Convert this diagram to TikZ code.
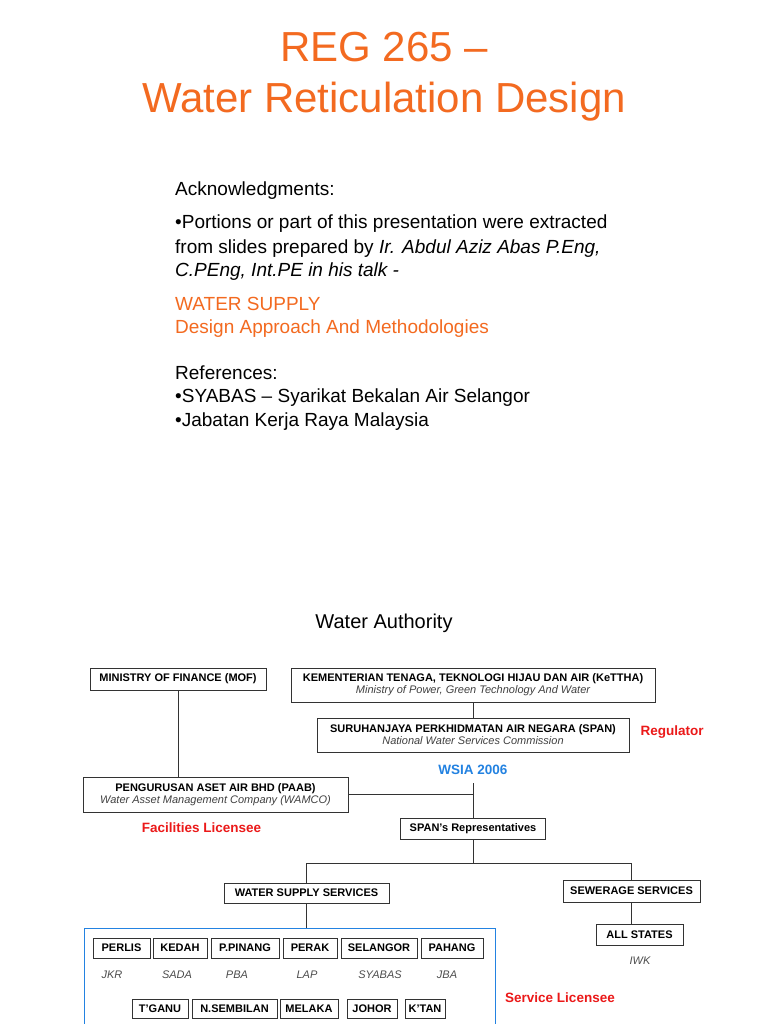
\documentclass[tikz,border=0pt]{standalone}
\usepackage{fontspec}
\setmainfont{Liberation Sans}
\usetikzlibrary{positioning}

\definecolor{slideorange}{RGB}{243,106,32}
\definecolor{licblue}{RGB}{35,130,225}
\definecolor{licred}{RGB}{235,25,25}

\tikzset{
  titletext/.style={anchor=base, text=slideorange, font=\fontsize{42}{48}\selectfont},
  bodytext/.style={anchor=base west, inner sep=0pt, font=\fontsize{19}{23}\selectfont},
  orgbox/.style={draw=black!80, line width=0.8pt, fill=white, inner sep=2pt, align=center,
    font=\fontsize{11}{13}\selectfont\bfseries},
  statebox/.style={orgbox, minimum height=20},
  agency/.style={text=black!70, font=\fontsize{11}{13}\selectfont\itshape},
  redtag/.style={text=licred, font=\fontsize{13.5}{15}\selectfont\bfseries},
  link/.style={draw=black!80, line width=0.8pt}
}

\begin{document}
\begin{tikzpicture}[x=1pt,y=-1pt]
    \useasboundingbox (0,0) rectangle (768,1024);
    \fill[white] (0,0) rectangle (768,1024);

    % title
    \node[titletext] (t1) at (384,62) {REG 265 –};
    \node[titletext] (t2) at (384,113) {Water Reticulation Design};

    % acknowledgments
    \node[bodytext] (ack) at (175,196) {Acknowledgments:};
    \node[bodytext] (por) at (175,229) {•Portions or part of this presentation were extracted};
    \node[bodytext] (frm) at (175,253) {from slides prepared by \textit{Ir. Abdul Aziz Abas P.Eng,}};
    \node[bodytext] (cpe) at (175,276) {\textit{C.PEng, Int.PE in his talk -}};
    \node[bodytext, text=slideorange] (ws) at (175,310) {WATER SUPPLY};
    \node[bodytext, text=slideorange] (dam) at (175,333) {Design Approach And Methodologies};
    \node[bodytext] (ref) at (175,379) {References:};
    \node[bodytext] (sya) at (175,402) {•SYABAS – Syarikat Bekalan Air Selangor};
    \node[bodytext] (jkr) at (175,426) {•Jabatan Kerja Raya Malaysia};

    % chart
    \node[font=\fontsize{20}{24}\selectfont] (wa) at (384,623) {Water Authority};

    \node[orgbox, minimum width=176, minimum height=22] (mof) at (178,679) {MINISTRY OF FINANCE (MOF)};
    \node[orgbox, minimum width=364, minimum height=34] (ketta) at (473,685)
        {KEMENTERIAN TENAGA, TEKNOLOGI HIJAU DAN AIR (KeTTHA)\\[-1pt]
         {\mdseries\itshape\color{black!75}Ministry of Power, Green Technology And Water}};
    \node[orgbox, minimum width=312, minimum height=34] (span) at (473,735)
        {SURUHANJAYA PERKHIDMATAN AIR NEGARA (SPAN)\\[-1pt]
         {\mdseries\itshape\color{black!75}National Water Services Commission}};
    \node[orgbox, minimum width=265, minimum height=35] (paab) at (215.5,794.5)
        {PENGURUSAN ASET AIR BHD (PAAB)\\[-1pt]
         {\mdseries\itshape\color{black!75}Water Asset Management Company (WAMCO)}};

    \node[redtag] (regl) at (672,732) {Regulator};
    \node[text=licblue, font=\fontsize{13.5}{15}\selectfont\bfseries] (wsia) at (473,770) {WSIA 2006};
    \node[redtag] (facl) at (201.5,828) {Facilities Licensee};
    \coordinate (wtop) at (473,783);

    \node[orgbox, minimum width=145, minimum height=21] (rep) at (473,828.5) {SPAN’s Representatives};
    \coordinate (split) at (473,863);
    \node[orgbox, minimum width=165, minimum height=20] (water) at (306.5,893) {WATER SUPPLY SERVICES};
    \node[orgbox, minimum width=137, minimum height=22] (sewer) at (631.5,891) {SEWERAGE SERVICES};
    \node[orgbox, minimum width=87, minimum height=21] (allst) at (639.5,934.5) {ALL STATES};
    \node[agency] (iwk) at (640,961) {IWK};

    % service licensee frame
    \node[draw=licblue, line width=1.3pt, minimum width=411, minimum height=130, anchor=north west,
        inner sep=0pt] (svc) at (84,928) {};
    \node[redtag] (svcl) at (560,998) {Service Licensee};

    \foreach \nm/\lbl/\cx/\bw in {perlis/PERLIS/121.5/57, kedah/KEDAH/180/54, ppinang/P.PINANG/245/68,
        perak/PERAK/310/54, selangor/SELANGOR/379/76, pahang/PAHANG/452/62}
        \node[statebox, minimum width=\bw] (\nm) at (\cx,948) {\lbl};
    \foreach \nm/\lbl/\cx in {jkr/JKR/112, sada/SADA/177, pba/PBA/237, lap/LAP/307, syabas/SYABAS/380, jba/JBA/447}
        \node[agency] (\nm) at (\cx,975) {\lbl};
    \foreach \nm/\lbl/\cx/\bw in {tganu/T’GANU/160/56, nsembilan/N.SEMBILAN/234.5/85, melaka/MELAKA/309/58,
        johor/JOHOR/372/50, ktan/K’TAN/425/40}
        \node[statebox, minimum width=\bw, minimum height=19] (\nm) at (\cx,1009) {\lbl};

    % connectors
    \draw[link] (mof.south) -- (mof.south |- paab.north);
    \draw[link] (ketta.south) -- (span.north);
    \draw[link] (wtop) -- (rep.north);
    \draw[link] (paab.east) -- (paab.east -| wtop);
    \draw[link] (rep.south) -- (split);
    \draw[link] (water.north) |- (split) -| (sewer.north);
    \draw[link] (water.south) -- (water.south |- svc.north);
    \draw[link] (sewer.south |- allst.north) -- (sewer.south);
\end{tikzpicture}
\end{document}
